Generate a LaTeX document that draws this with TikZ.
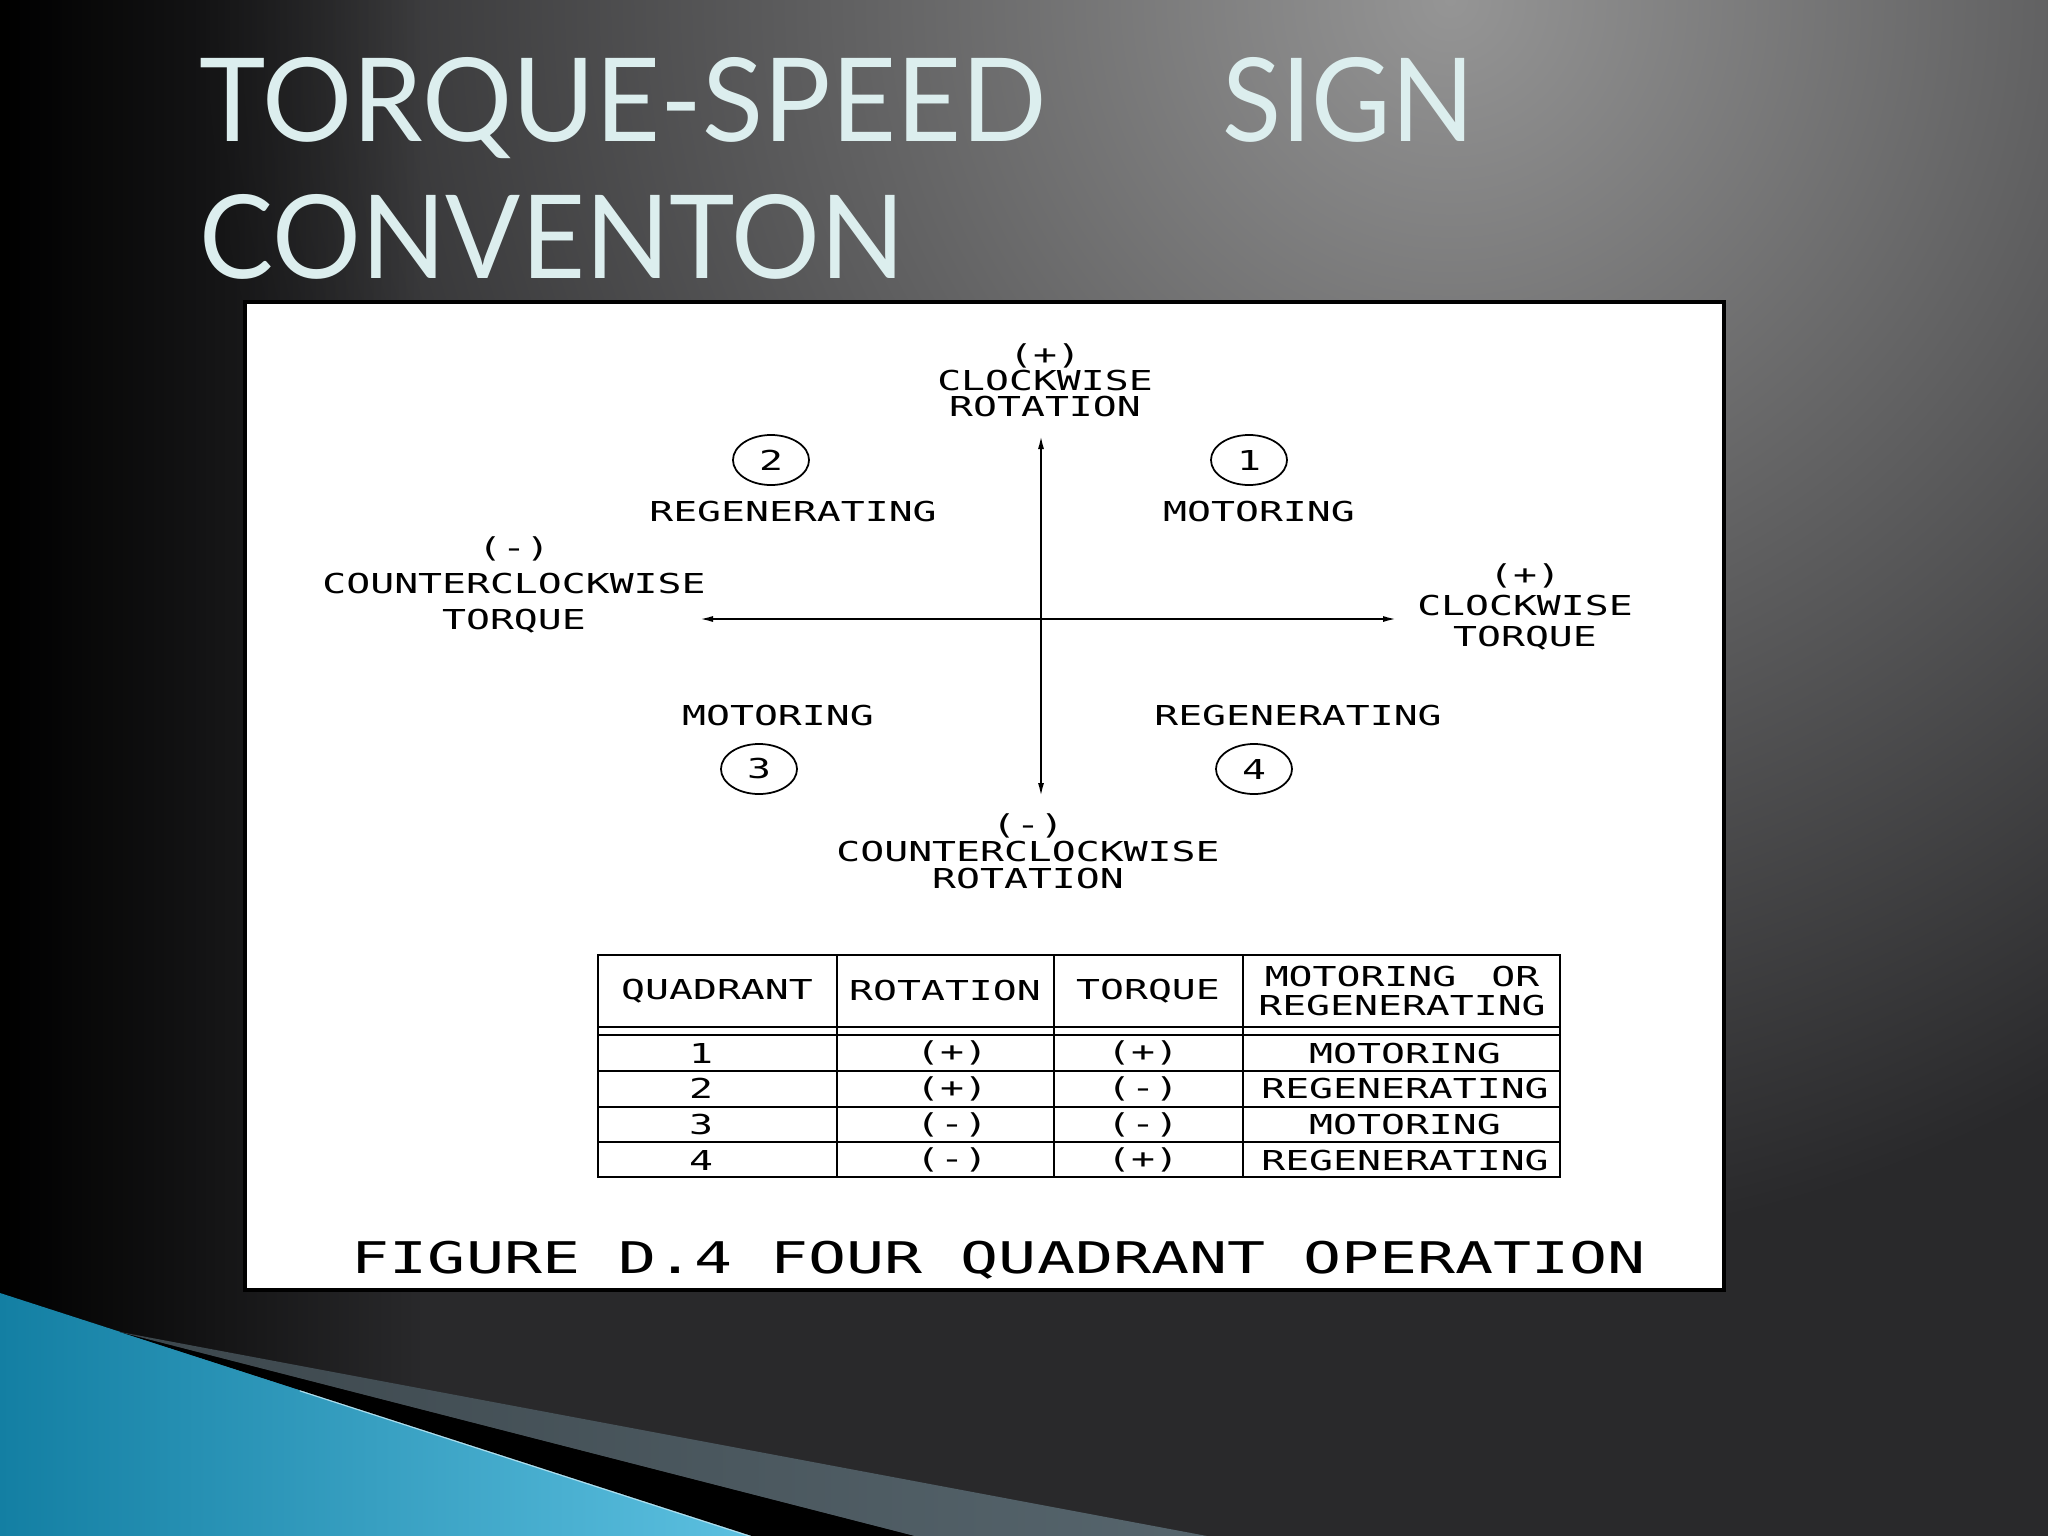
\documentclass[tikz,border=0pt]{standalone}
\usepackage{fontspec}
\usetikzlibrary{arrows.meta,shapes.geometric,fadings}
\setmainfont{Lato}
\newfontfamily\cadfont[FakeStretch=1.45]{DejaVu Sans Mono}
\definecolor{slidetop}{HTML}{959595}
\definecolor{slidebase}{HTML}{29292B}
\definecolor{titletext}{HTML}{DCEEEE}
\definecolor{bluedark}{HTML}{137FA3}
\definecolor{bluelight}{HTML}{5CC0E0}
\definecolor{slate}{HTML}{56656D}
\tikzfading[name=fadeleft, left color=transparent!0, right color=transparent!100]
\tikzset{
  cad/.style={font=\cadfont\fontsize{7.8}{#1}\selectfont, inner sep=0pt, align=center},
  cad/.default=7.5,
  quadnum/.style={cad, draw, ellipse, line width=0.5pt, minimum width=0.76cm, minimum height=0.5cm},
  axis/.style={arrows={Latex[length=1.4mm,width=0.6mm]-Latex[length=1.4mm,width=0.6mm]}, line width=0.6pt},
  grid/.style={line width=0.6pt},
}
\begin{document}
\begin{tikzpicture}[x=0.01cm, y=-0.01cm]
    \useasboundingbox (0,0) rectangle (2048,1536);
    % slide background
    \begin{scope}
        \clip (0,0) rectangle (2048,1536);
        \fill[slidebase] (0,0) rectangle (2048,1536);
        \shade[inner color=slidetop, outer color=slidebase] (1450,0) circle (1250);
        \fill[black, path fading=fadeleft] (0,0) rectangle (420,1536);
        % corner stripes
        \shade[left color=bluedark, right color=bluelight] (0,1293) -- (752,1536) -- (0,1536) -- cycle;
        \draw[bluelight!50!white, line width=0.8pt] (300,1390) -- (752,1536);
        \fill[black] (120,1332) -- (752,1536) -- (915,1536) -- cycle;
        \shade[left color=slate!70!black, right color=slate] (120,1332) -- (915,1536) -- (1207,1536) -- cycle;
    \end{scope}

    % title
    \node[anchor=base west, inner sep=0pt, text=titletext, font=\fontsize{33}{40}\selectfont] (title1) at (199,141)
        {\resizebox{8.46cm}{\height}{TORQUE-SPEED}\hspace{1.76cm}\resizebox{2.52cm}{\height}{SIGN}};
    \node[anchor=base west, inner sep=0pt, text=titletext, font=\fontsize{33}{40}\selectfont] (title2) at (199,278)
        {\resizebox{7.05cm}{\height}{CONVENTON}};

    % white figure panel
    \fill[white] (245,302) rectangle (1724,1290);
    \draw[black, line width=1pt] (245,302) rectangle (1724,1290);

    % axes
    \coordinate (top) at (1041,435);
    \coordinate (bot) at (1041,797);
    \coordinate (lft) at (699,619);
    \coordinate (rgt) at (1397,619);
    \draw[axis] (bot) -- (top);
    \draw[axis] (lft) -- (rgt);

    % axis labels
    \node[cad=7.4] (cwrot) at (1045,380) {(+)\\CLOCKWISE\\ROTATION};
    \node[cad=10.2] (ccwtrq) at (514,585) {(-)\\COUNTERCLOCKWISE\\TORQUE};
    \node[cad=8.8] (cwtrq) at (1525,607) {(+)\\CLOCKWISE\\TORQUE};
    \node[cad=7.7] (ccwrot) at (1028,851) {(-)\\COUNTERCLOCKWISE\\ROTATION};

    % quadrants
    \node[quadnum] (q1) at (1249,460) {1};
    \node[cad] (q1lbl) at (1259,512) {MOTORING};
    \node[quadnum] (q2) at (771,460) {2};
    \node[cad] (q2lbl) at (793,512) {REGENERATING};
    \node[quadnum] (q3) at (759,769) {3};
    \node[cad] (q3lbl) at (778,716) {MOTORING};
    \node[quadnum] (q4) at (1254,769) {4};
    \node[cad] (q4lbl) at (1298,716) {REGENERATING};

    % table grid
    \draw[grid] (598,955) rectangle (1560,1177);
    \foreach \x in {837,1054,1243} \draw[grid] (\x,955) -- (\x,1177);
    \foreach \y in {1027,1035,1071,1107,1142} \draw[grid] (598,\y) -- (1560,\y);

    % table header
    \node[cad] (hquad) at (717,991) {QUADRANT};
    \node[cad] (hrot) at (945,991) {ROTATION};
    \node[cad] (htrq) at (1148,991) {TORQUE};
    \node[cad=8.5] (hmode) at (1402,991) {MOTORING\hspace{0.35cm}OR\\REGENERATING};

    % table rows
    \foreach \q/\r/\t/\m [count=\i from 0] in {1/(+)/(+)/MOTORING, 2/(+)/(-)/REGENERATING, 3/(-)/(-)/MOTORING, 4/(-)/(+)/REGENERATING} {
        \node[cad] (quad\q) at (701,1053+35.7*\i) {\q};
        \node[cad] (rot\q) at (952,1053+35.7*\i) {\r};
        \node[cad] (trq\q) at (1143,1053+35.7*\i) {\t};
        \node[cad] (mode\q) at (1405,1053+35.7*\i) {\m};
    }

    % caption
    \node[cad, font=\cadfont\fontsize{12.4}{16}\selectfont] (caption) at (999,1260) {FIGURE D.4 FOUR QUADRANT OPERATION};
\end{tikzpicture}
\end{document}
